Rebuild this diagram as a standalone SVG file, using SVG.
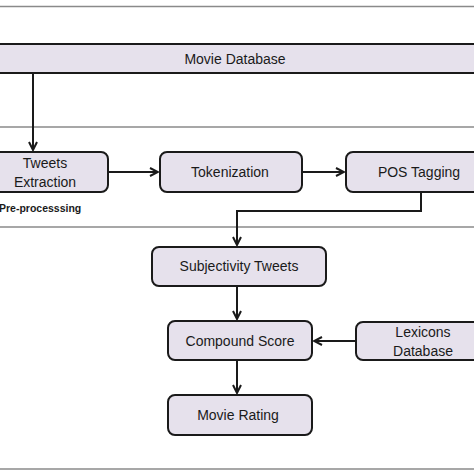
<svg xmlns="http://www.w3.org/2000/svg" width="474" height="474" viewBox="0 0 474 474">
<defs>
<style>
.box{fill:#e6e1ec;stroke:#1a1a1a;stroke-width:2}
.t{font-family:"Liberation Sans",Arial,sans-serif;font-size:14px;fill:#1a1a1a;text-anchor:middle}
.sep{stroke:#8a8a8a;stroke-width:1.5}
.c{stroke:#1a1a1a;stroke-width:2;fill:none}
</style>
<marker id="ah" viewBox="0 0 10 10" refX="9" refY="5" markerWidth="5" markerHeight="5" orient="auto" markerUnits="strokeWidth">
<path d="M1,1 L9,5 L1,9" fill="none" stroke="#1a1a1a" stroke-width="2"/>
</marker>
</defs>
<rect width="474" height="474" fill="#fff"/>
<g id="separators">
<line class="sep" x1="0" y1="6.5" x2="474" y2="6.5"/>
<line class="sep" x1="0" y1="127" x2="474" y2="127"/>
<line class="sep" x1="0" y1="227" x2="474" y2="227"/>
<line class="sep" x1="0" y1="469" x2="474" y2="469"/>
</g>
<g id="movie-database">
<rect x="-5" y="44" width="484" height="29" fill="#e6e1ec" stroke="#1a1a1a" stroke-width="2"/>
<text class="t" x="235" y="64">Movie Database</text>
</g>
<g id="connectors">
<path class="c" d="M33,73 V150" marker-end="url(#ah)"/>
<path class="c" d="M108,172 H158" marker-end="url(#ah)"/>
<path class="c" d="M302,172 H344" marker-end="url(#ah)"/>
<path class="c" d="M421,192 V211 H237 V245" marker-end="url(#ah)"/>
<path class="c" d="M237,286 V319" marker-end="url(#ah)"/>
<path class="c" d="M356,341 H314" marker-end="url(#ah)"/>
<path class="c" d="M237,360 V393" marker-end="url(#ah)"/>
</g>
<g id="tweets-extraction">
<rect class="box" x="-20" y="152" width="128" height="40" rx="7"/>
<text class="t" x="45" y="168">Tweets</text>
<text class="t" x="45" y="187">Extraction</text>
</g>
<text x="-1" y="211.5" font-family="'Liberation Sans',Arial,sans-serif" font-size="10.5" font-weight="bold" fill="#1a1a1a">Pre-processsing</text>
<g id="tokenization">
<rect class="box" x="160" y="152" width="142" height="40" rx="7"/>
<text class="t" x="230" y="177">Tokenization</text>
</g>
<g id="pos-tagging">
<rect class="box" x="346" y="152" width="140" height="40" rx="7"/>
<text class="t" x="419" y="177">POS Tagging</text>
</g>
<g id="subjectivity-tweets">
<rect class="box" x="152" y="247" width="174" height="39" rx="7"/>
<text class="t" x="239" y="271">Subjectivity Tweets</text>
</g>
<g id="compound-score">
<rect class="box" x="168" y="321" width="144" height="39" rx="7"/>
<text class="t" x="240" y="345.5">Compound Score</text>
</g>
<g id="lexicons-database">
<rect class="box" x="356" y="322" width="130" height="38" rx="7"/>
<text class="t" x="423" y="337">Lexicons</text>
<text class="t" x="423" y="355.5">Database</text>
</g>
<g id="movie-rating">
<rect class="box" x="168" y="395" width="144" height="40" rx="7"/>
<text class="t" x="238" y="420">Movie Rating</text>
</g>
</svg>
